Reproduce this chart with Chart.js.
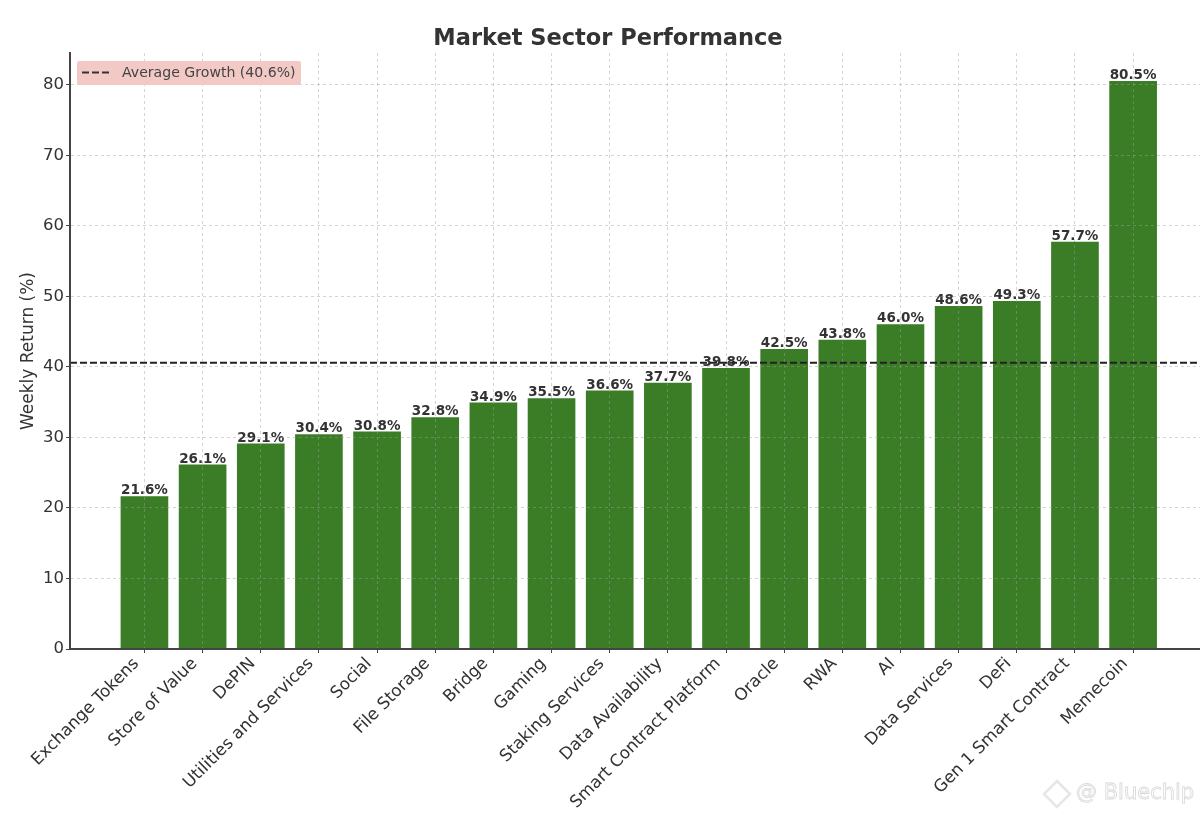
<!DOCTYPE html>
<html>
<head>
<meta charset="utf-8">
<title>Market Sector Performance</title>
<script src="https://cdn.jsdelivr.net/npm/chart.js@4"></script>
<style>
  html, body { margin: 0; padding: 0; background: #fff; }
  canvas { display: block; }
</style>
</head>
<body>
<canvas id="myChart" width="1200" height="820"></canvas>
<script>
const sectors = ['Exchange Tokens', 'Store of Value', 'DePIN', 'Utilities and Services', 'Social', 'File Storage', 'Bridge', 'Gaming', 'Staking Services', 'Data Availability', 'Smart Contract Platform', 'Oracle', 'RWA', 'AI', 'Data Services', 'DeFi', 'Gen 1 Smart Contract', 'Memecoin'];
const weeklyReturn = [21.6, 26.1, 29.1, 30.4, 30.8, 32.8, 34.9, 35.5, 36.6, 37.7, 39.8, 42.5, 43.8, 46.0, 48.6, 49.3, 57.7, 80.5];
const avgGrowth = 40.6;
const yTicks = [0, 10, 20, 30, 40, 50, 60, 70, 80];

const font = 'DejaVu Sans';
const textColor = '#333';
const axisColor = '#444';
const gridColor = 'rgba(160,160,160,0.45)';

// the picture is cut on the right, so the x range is not symmetric
const xMin = -1.28;
const xMax = 18.15;

// value labels go under the average line, so draw them right after the bars
const barLabels = {
    id: 'barLabels',
    afterDatasetDraw(chart, args) {
        if (args.index !== 0) return;
        const ctx = chart.ctx;
        ctx.save();
        ctx.font = 'bold 13.5px "' + font + '"';
        ctx.fillStyle = textColor;
        ctx.textAlign = 'center';
        ctx.textBaseline = 'bottom';
        args.meta.data.forEach((bar, i) => {
            ctx.fillText(weeklyReturn[i].toFixed(1) + '%', bar.x, bar.y + 1);
        });
        ctx.restore();
    }
};

// pink legend box inside the plot, and the faint watermark
const extras = {
    id: 'extras',
    afterDraw(chart) {
        const ctx = chart.ctx;
        ctx.save();
        ctx.fillStyle = '#f3c9c6';
        ctx.beginPath();
        ctx.roundRect(77, 61, 224, 24, 2);
        ctx.fill();
        ctx.strokeStyle = '#333';
        ctx.lineWidth = 2;
        ctx.setLineDash([7, 3]);
        ctx.beginPath();
        ctx.moveTo(82, 72.5);
        ctx.lineTo(111, 72.5);
        ctx.stroke();
        ctx.setLineDash([]);
        ctx.font = '14.1px "' + font + '"';
        ctx.fillStyle = '#444';
        ctx.textBaseline = 'middle';
        ctx.fillText('Average Growth (' + avgGrowth + '%)', 122, 73);

        ctx.strokeStyle = '#d8d8d8';
        ctx.lineWidth = 0.8;
        ctx.font = '21px "' + font + '"';
        ctx.strokeText('@ Bluechip', 1076, 794);
        ctx.lineWidth = 2.5;
        ctx.strokeStyle = '#e6e6e6';
        ctx.beginPath();
        ctx.moveTo(1057, 781);
        ctx.lineTo(1070, 794);
        ctx.lineTo(1057, 807);
        ctx.lineTo(1044, 794);
        ctx.closePath();
        ctx.stroke();
        ctx.restore();
    }
};

const ctx = document.getElementById('myChart').getContext('2d');
new Chart(ctx, {
    data: {
        datasets: [{
            type: 'bar',
            data: weeklyReturn.map((v, i) => ({ x: i, y: v })),
            backgroundColor: '#3a7d26',
            barThickness: 47,
            order: 1
        }, {
            type: 'line',
            data: [{ x: xMin, y: avgGrowth }, { x: xMax, y: avgGrowth }],
            borderColor: '#222',
            borderWidth: 2,
            borderDash: [7, 3],
            pointRadius: 0,
            order: 0
        }]
    },
    options: {
        responsive: false,
        animation: false,
        layout: {
            autoPadding: false,
            padding: { left: 16, right: 0, top: 0, bottom: 0 }
        },
        plugins: {
            legend: { display: false },
            tooltip: { enabled: false },
            title: {
                display: true,
                text: 'Market Sector Performance',
                color: textColor,
                font: { family: font, size: 22.5, weight: 'bold' },
                padding: { top: 26, bottom: 0 }
            }
        },
        scales: {
            x: {
                type: 'linear',
                offset: false,
                min: xMin,
                max: xMax,
                afterBuildTicks: axis => { axis.ticks = sectors.map((s, i) => ({ value: i })); },
                afterFit: axis => { axis.height = 171; },
                grid: { offset: false, color: gridColor, tickColor: axisColor, tickLength: 4, z: 1 },
                border: { color: axisColor, width: 2, dash: [3, 3], z: 1 },
                ticks: {
                    autoSkip: false,
                    minRotation: 45,
                    maxRotation: 45,
                    padding: 1,
                    labelOffset: -8,
                    color: textColor,
                    font: { family: font, size: 16.8 },
                    callback: (value) => sectors[value]
                }
            },
            y: {
                min: 0,
                max: 84.5,
                afterBuildTicks: axis => { axis.ticks = yTicks.map(v => ({ value: v })); },
                afterFit: axis => { axis.width = 54; },
                title: {
                    display: true,
                    text: 'Weekly Return (%)',
                    color: textColor,
                    font: { family: font, size: 17 },
                    padding: { top: 2, bottom: 0 }
                },
                grid: {
                    // the zero line would sit on top of the x axis
                    color: c => (c.tick && c.tick.value === 0 ? 'transparent' : gridColor),
                    tickColor: axisColor,
                    tickLength: 4,
                    z: 1
                },
                border: { color: axisColor, width: 2, dash: [3, 3], z: 1 },
                ticks: {
                    padding: 2,
                    color: textColor,
                    font: { family: font, size: 16.5 }
                }
            }
        }
    },
    plugins: [barLabels, extras]
});
</script>
</body>
</html>
